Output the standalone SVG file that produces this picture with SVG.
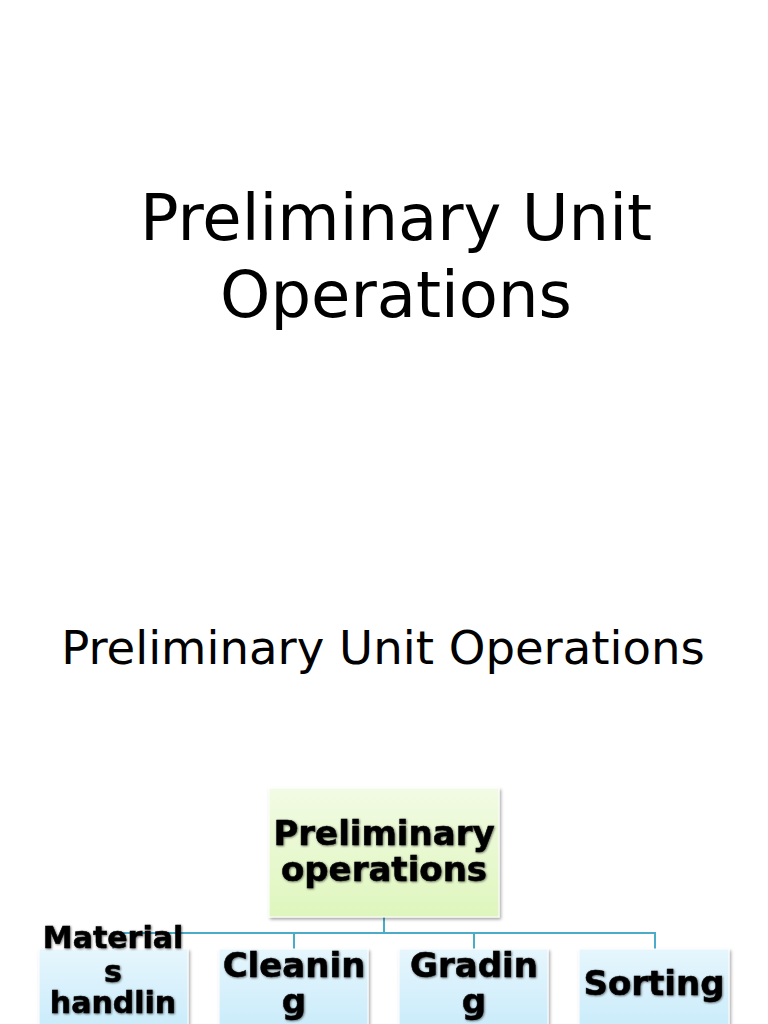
<svg xmlns="http://www.w3.org/2000/svg" width="768" height="1024" viewBox="0 0 768 1024">
<defs>
<linearGradient id="gGreen" x1="0" y1="0" x2="0" y2="1">
<stop offset="0" stop-color="#f2fbe4"/>
<stop offset="1" stop-color="#def6bd"/>
</linearGradient>
<linearGradient id="gBlue" x1="0" y1="0" x2="0" y2="1">
<stop offset="0" stop-color="#e6f6fd"/>
<stop offset="1" stop-color="#c6eafa"/>
</linearGradient>
<filter id="sh" x="-10%" y="-10%" width="125%" height="125%">
<feDropShadow dx="1.5" dy="2" stdDeviation="1.5" flood-color="#000" flood-opacity="0.35"/>
</filter>
<filter id="tsh" x="-5%" y="-10%" width="115%" height="130%">
<feDropShadow dx="0.8" dy="0.8" stdDeviation="1" flood-color="#000" flood-opacity="0.6"/>
</filter>
</defs>
<style>
.title{font-family:"DejaVu Sans",sans-serif;fill:#000;text-anchor:middle}
.lbl{font-family:"DejaVu Sans",sans-serif;font-weight:bold;fill:#000;stroke:#000;stroke-width:0.5;text-anchor:middle}
.box{stroke:#ffffff;stroke-width:1}
.conn{fill:none;stroke:#4aacc6;stroke-width:2}
</style>
<rect width="768" height="1024" fill="#ffffff"/>
<text class="title" x="396" y="240" font-size="64">Preliminary Unit</text>
<text class="title" x="396" y="317" font-size="64">Operations</text>
<text class="title" x="383" y="664" font-size="46.6">Preliminary Unit Operations</text>
<g id="connectors">
<path class="conn" d="M384 917V933M113 949V933H655V949M294 933V949M474 933V949"/>
</g>
<g id="node-preliminary">
<rect class="box" x="269" y="788" width="230" height="129" fill="url(#gGreen)" filter="url(#sh)"/>
<text class="lbl" x="384" y="845" font-size="34" filter="url(#tsh)">Preliminary</text>
<text class="lbl" x="384" y="881" font-size="34" filter="url(#tsh)">operations</text>
</g>
<g id="node-materials">
<rect class="box" x="39" y="949" width="149" height="90" fill="url(#gBlue)" filter="url(#sh)"/>
<text class="lbl" x="113" y="948" font-size="30" filter="url(#tsh)">Material</text>
<text class="lbl" x="113" y="982" font-size="30" filter="url(#tsh)">s</text>
<text class="lbl" x="113" y="1013" font-size="30" filter="url(#tsh)">handlin</text>
</g>
<g id="node-cleaning">
<rect class="box" x="219" y="949" width="149" height="90" fill="url(#gBlue)" filter="url(#sh)"/>
<text class="lbl" x="294" y="977" font-size="34" filter="url(#tsh)">Cleanin</text>
<text class="lbl" x="294" y="1013" font-size="34" filter="url(#tsh)">g</text>
</g>
<g id="node-grading">
<rect class="box" x="399" y="949" width="149" height="90" fill="url(#gBlue)" filter="url(#sh)"/>
<text class="lbl" x="474" y="977" font-size="34" filter="url(#tsh)">Gradin</text>
<text class="lbl" x="474" y="1013" font-size="34" filter="url(#tsh)">g</text>
</g>
<g id="node-sorting">
<rect class="box" x="579" y="949" width="150" height="90" fill="url(#gBlue)" filter="url(#sh)"/>
<text class="lbl" x="654" y="995" font-size="34" filter="url(#tsh)">Sorting</text>
</g>
</svg>
